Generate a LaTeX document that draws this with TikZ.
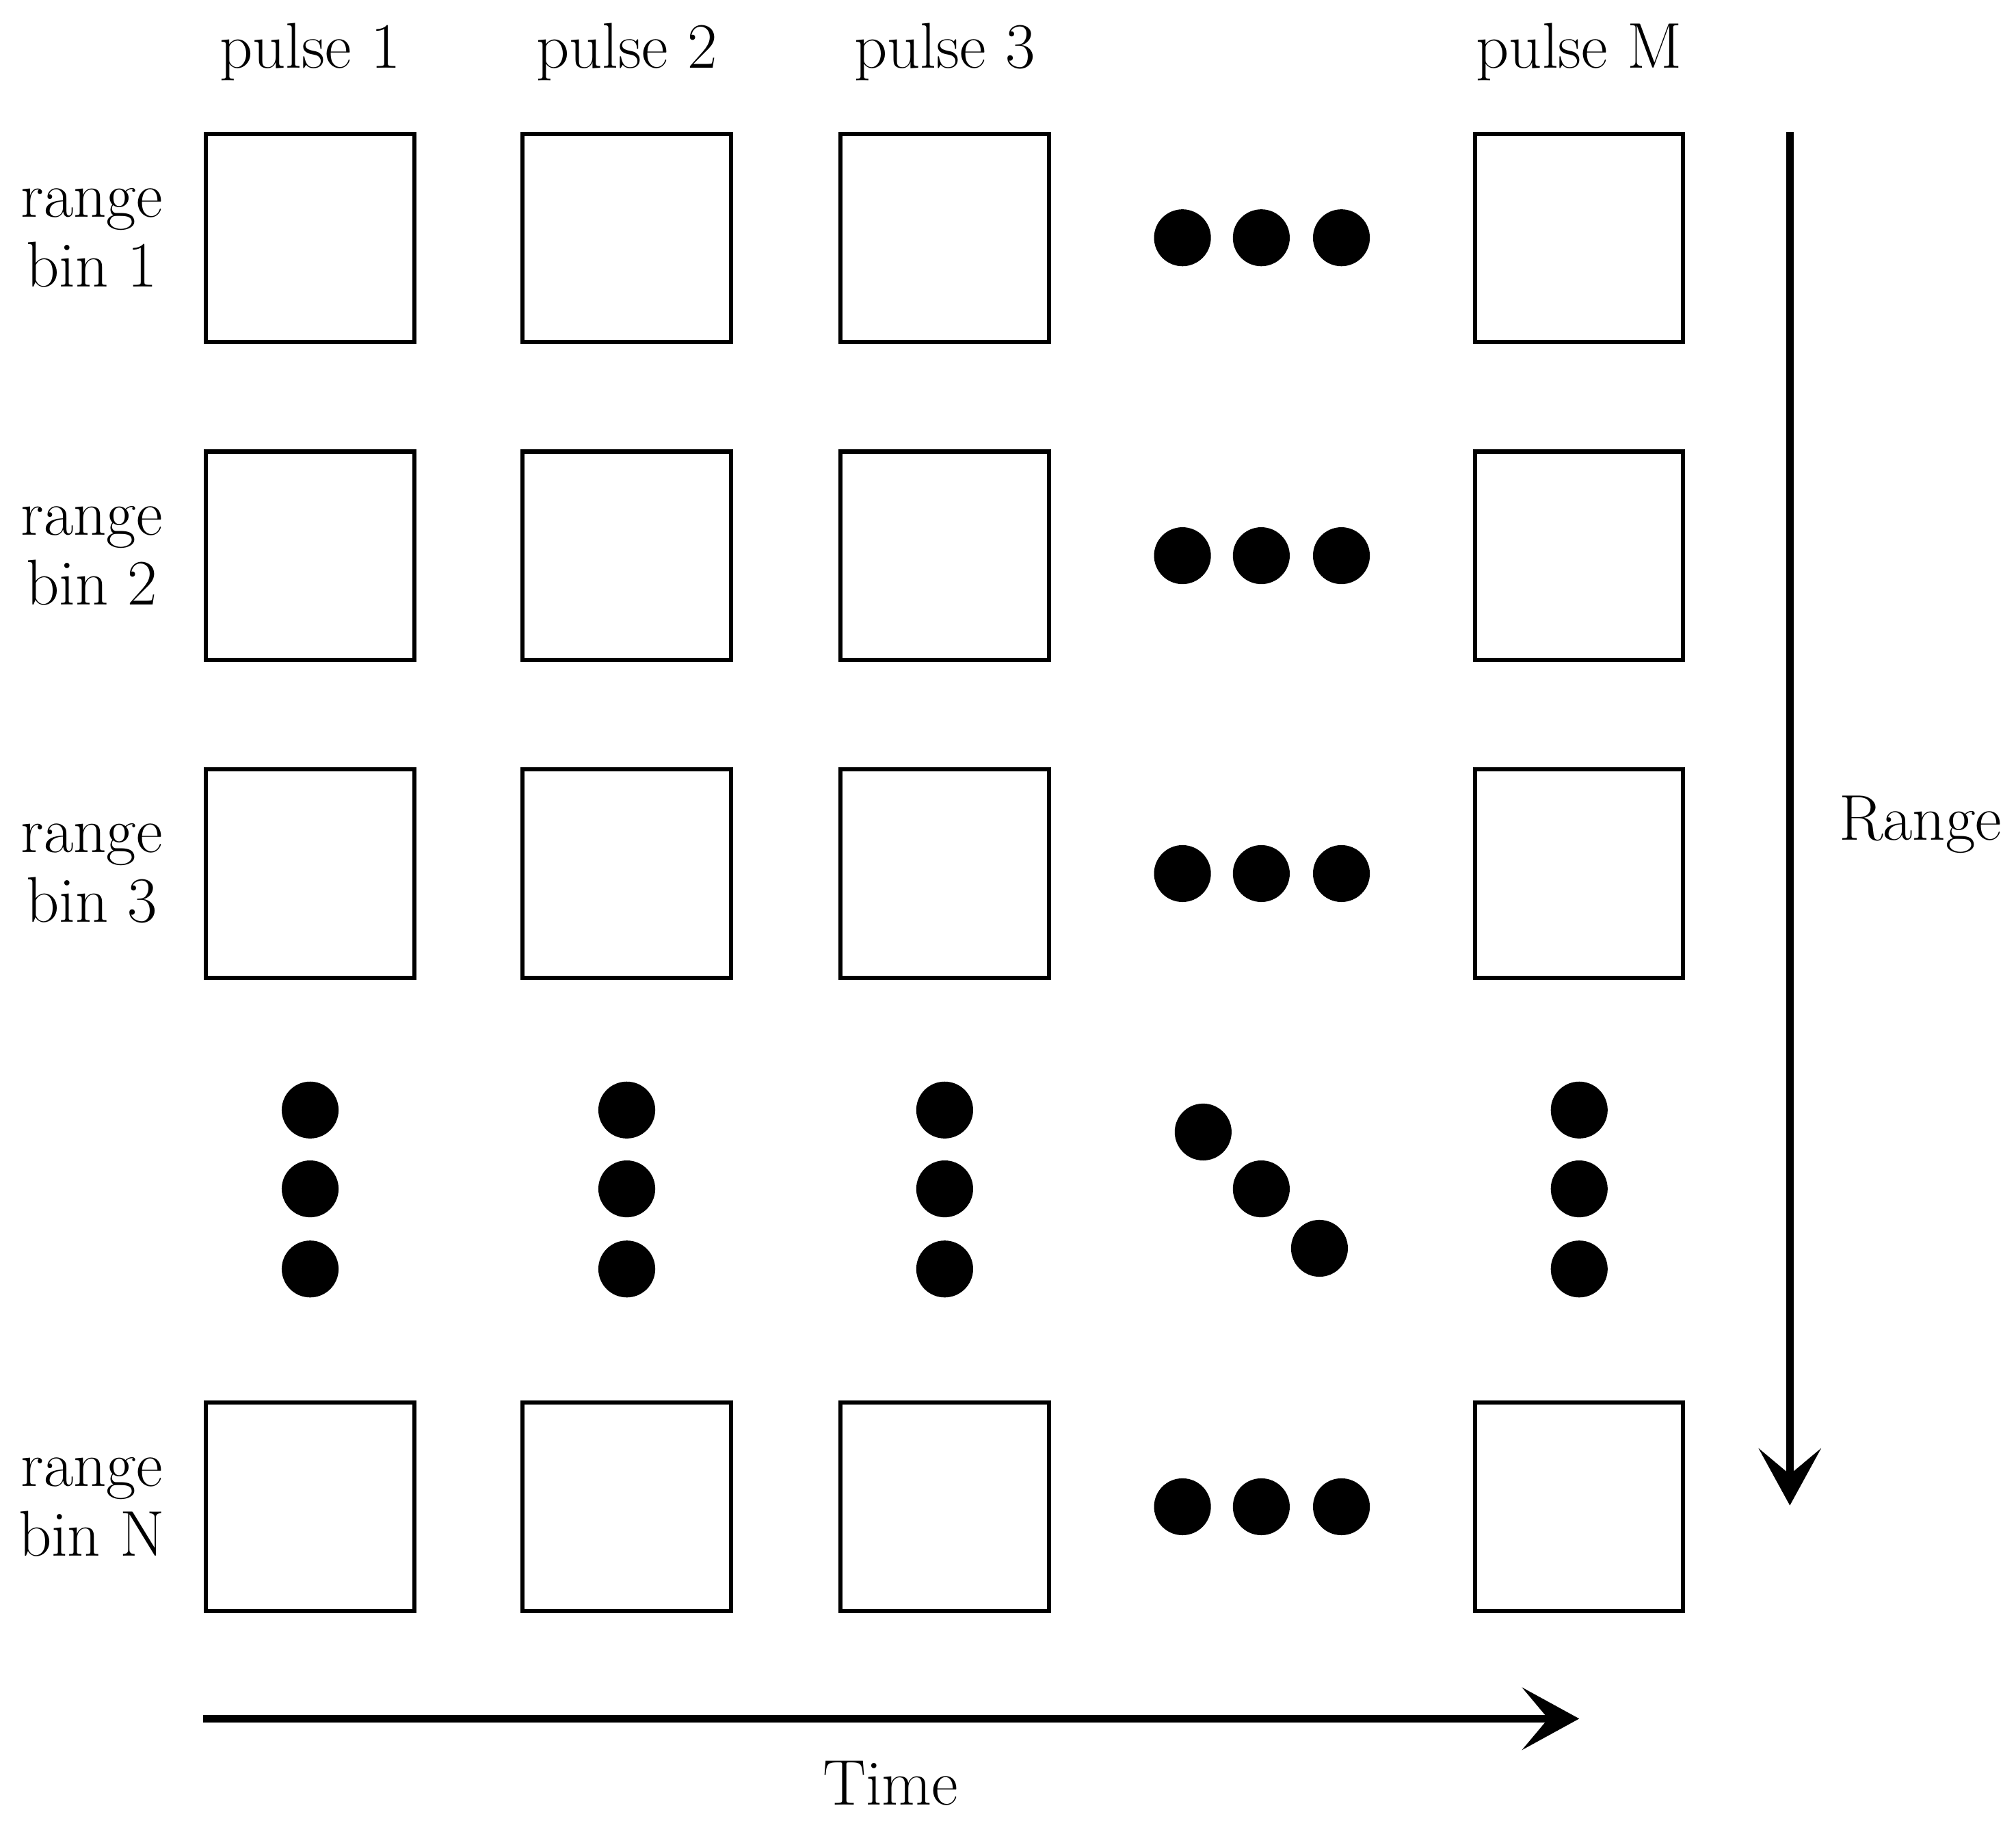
\documentclass[tikz,border=0pt]{standalone}
\usetikzlibrary{arrows.meta}
\begin{document}
\begin{tikzpicture}[x=0.5pt,y=-0.5pt,
  cell/.style={draw,line width=1.6pt,minimum size=80.5pt,inner sep=0pt},
  dot/.style={fill,circle,minimum size=22pt,inner sep=0pt},
  lab/.style={font=\fontsize{25}{27}\selectfont,align=center},
  axis/.style={line width=3pt,-{Stealth[length=22pt,width=24pt,inset=10pt]}}]
\useasboundingbox (0,0) rectangle (1560,1409);
\foreach \c/\x/\t in {1/240/1,2/485/2,3/731/3,m/1222/M}{
  \node[lab] (p\c) at (\x,40) {pulse \t};
  \foreach \r/\y in {1/184,2/430,3/676,n/1166}{
    \node[cell] (b\r\c) at (\x,\y) {};
  }
  \node[dot] (v1\c) at (\x,859) {};
  \node[dot] (v2\c) at (\x,920) {};
  \node[dot] (v3\c) at (\x,982) {};
}
\foreach \r/\y/\t in {1/184/1,2/430/2,3/676/3,n/1166/N}{
  \node[lab] (rl\r) at (71,\y) {range\\bin \t};
  \node[dot] (h1\r) at (915,\y) {};
  \node[dot] (h2\r) at (976,\y) {};
  \node[dot] (h3\r) at (1038,\y) {};
}
\node[dot] (d1) at (931,876) {};
\node[dot] (d2) at (976,920) {};
\node[dot] (d3) at (1021,966) {};
\coordinate (rs) at (1385,102);
\coordinate (re) at (1385,1165);
\draw[axis] (rs) -- (re);
\coordinate (ts) at (157,1330);
\coordinate (te) at (1222,1330);
\draw[axis] (ts) -- (te);
\node[lab] (range) at (1486,638) {Range};
\node[lab] (time) at (689,1380) {Time};
\end{tikzpicture}
\end{document}
